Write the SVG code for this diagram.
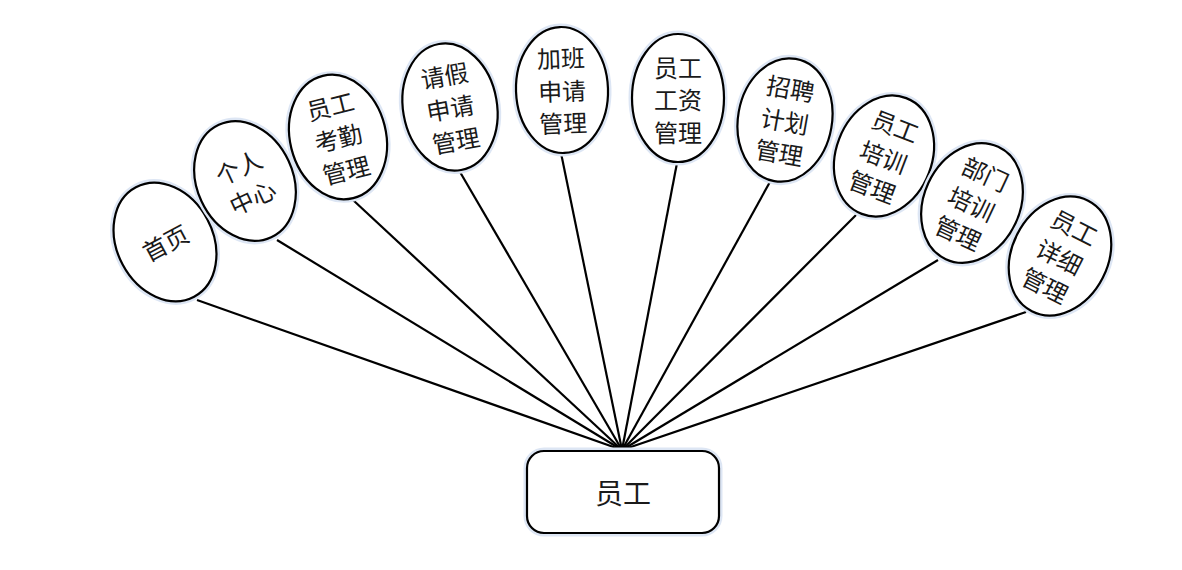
<svg xmlns="http://www.w3.org/2000/svg" width="1182" height="570" viewBox="0 0 1182 570">
<style>
.ell{fill:#fff;stroke:#000;stroke-width:2.2}
.glow{fill:none;stroke:#dde6f4;stroke-width:7}
.lbl{font-family:"Noto Sans CJK SC","Liberation Serif",serif;font-size:24px;font-weight:400;fill:#1a1a1a;text-anchor:middle;dominant-baseline:central}
.conn line{stroke:#000;stroke-width:2.2}
.box{fill:#fff;stroke:#000;stroke-width:2.2}
</style>
<rect width="1182" height="570" fill="#fff"/>
<g class="conn">
<line x1="622" y1="450" x2="197" y2="300"/>
<line x1="622" y1="450" x2="277" y2="240"/>
<line x1="622" y1="450" x2="353" y2="200"/>
<line x1="622" y1="450" x2="460" y2="172"/>
<line x1="622" y1="450" x2="561" y2="153"/>
<line x1="622" y1="450" x2="677" y2="163"/>
<line x1="622" y1="450" x2="771" y2="180"/>
<line x1="622" y1="450" x2="856" y2="215"/>
<line x1="622" y1="450" x2="938" y2="260"/>
<line x1="622" y1="450" x2="1026" y2="312"/>
</g>
<g id="n1" transform="translate(165,242) rotate(-28)">
<ellipse class="glow" rx="48" ry="62"/>
<ellipse class="ell" rx="48" ry="62"/>
<text class="lbl" x="0" y="0">首页</text>
</g>
<g id="n2" transform="translate(245,181) rotate(-25)">
<ellipse class="glow" rx="48" ry="62"/>
<ellipse class="ell" rx="48" ry="62"/>
<text class="lbl" x="0" y="-16">个人</text>
<text class="lbl" x="0" y="17">中心</text>
</g>
<g id="n3" transform="translate(338,137) rotate(-14)">
<ellipse class="glow" rx="48" ry="63"/>
<ellipse class="ell" rx="48" ry="63"/>
<text class="lbl" x="0" y="-33">员工</text>
<text class="lbl" x="0" y="0">考勤</text>
<text class="lbl" x="0" y="33">管理</text>
</g>
<g id="n4" transform="translate(450,107) rotate(-10)">
<ellipse class="glow" rx="47" ry="64"/>
<ellipse class="ell" rx="47" ry="64"/>
<text class="lbl" x="0" y="-33">请假</text>
<text class="lbl" x="0" y="0">申请</text>
<text class="lbl" x="0" y="33">管理</text>
</g>
<g id="n5" transform="translate(562,90) rotate(-2)">
<ellipse class="glow" rx="46" ry="63"/>
<ellipse class="ell" rx="46" ry="63"/>
<text class="lbl" x="0" y="-33">加班</text>
<text class="lbl" x="0" y="0">申请</text>
<text class="lbl" x="0" y="32">管理</text>
</g>
<g id="n6" transform="translate(678,98) rotate(0)">
<ellipse class="glow" rx="46" ry="64"/>
<ellipse class="ell" rx="46" ry="64"/>
<text class="lbl" x="0" y="-32">员工</text>
<text class="lbl" x="0" y="0">工资</text>
<text class="lbl" x="0" y="33">管理</text>
</g>
<g id="n7" transform="translate(785,120) rotate(10)">
<ellipse class="glow" rx="47" ry="62"/>
<ellipse class="ell" rx="47" ry="62"/>
<text class="lbl" x="0" y="-33">招聘</text>
<text class="lbl" x="0" y="0">计划</text>
<text class="lbl" x="0" y="32">管理</text>
</g>
<g id="n8" transform="translate(884,156) rotate(21)">
<ellipse class="glow" rx="48" ry="62"/>
<ellipse class="ell" rx="48" ry="62"/>
<text class="lbl" x="0" y="-33">员工</text>
<text class="lbl" x="0" y="0">培训</text>
<text class="lbl" x="0" y="32">管理</text>
</g>
<g id="n9" transform="translate(972,203) rotate(25)">
<ellipse class="glow" rx="48" ry="62"/>
<ellipse class="ell" rx="48" ry="62"/>
<text class="lbl" x="0" y="-33">部门</text>
<text class="lbl" x="0" y="0">培训</text>
<text class="lbl" x="0" y="32">管理</text>
</g>
<g id="n10" transform="translate(1060,256) rotate(27)">
<ellipse class="glow" rx="48" ry="62"/>
<ellipse class="ell" rx="48" ry="62"/>
<text class="lbl" x="0" y="-33">员工</text>
<text class="lbl" x="0" y="0">详细</text>
<text class="lbl" x="0" y="32">管理</text>
</g>
<g id="root">
<rect x="527" y="451" width="192" height="82" rx="17" ry="17" fill="none" stroke="#dde6f4" stroke-width="7"/>
<rect class="box" x="527" y="451" width="192" height="82" rx="17" ry="17"/>
<text class="lbl" x="623" y="492" style="font-size:28px">员工</text>
</g>
</svg>
